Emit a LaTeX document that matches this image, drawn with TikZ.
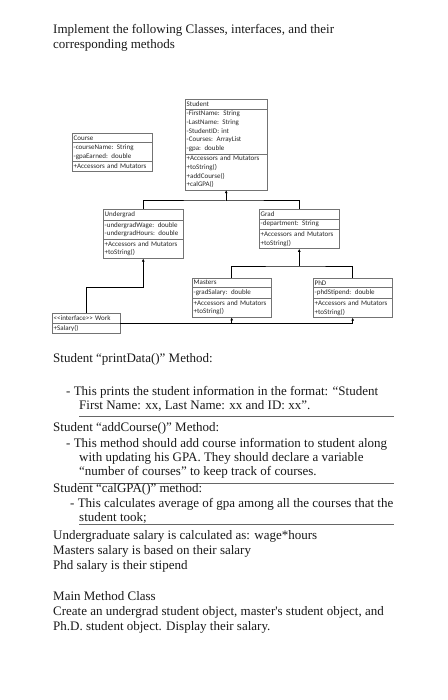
\documentclass[tikz,border=0pt]{standalone}
\usepackage{fontspec}
\setmainfont{Liberation Serif}
\newfontfamily\umlfont{Carlito}
\usetikzlibrary{arrows.meta,positioning,shapes.multipart}

\begin{document}
\begin{tikzpicture}[
    x=1pt,y=-1pt,
    txt/.style={anchor=base west,inner sep=0pt,text=black!90,
      font=\fontsize{13}{15}\selectfont},
    umlclass/.style={rectangle split,rectangle split parts=3,draw=black!55,
      anchor=north west,text width=77pt,align=left,inner xsep=1.5pt,inner ysep=2.1pt,
      text=black!85,font=\umlfont\fontsize{7}{8.6}\selectfont},
    umliface/.style={umlclass,rectangle split parts=2},
    tree/.style={line width=1pt},
    gen/.style={line width=1pt,-{Latex[length=3pt,width=3pt]}},
    rule/.style={draw=black!60,line width=0.9pt}
  ]
    \useasboundingbox (0,0) rectangle (447,700);

    % heading
    \node[txt] (title1) at (53,34) {Implement the following Classes, interfaces, and their};
    \node[txt] (title2) at (53,49) {corresponding methods};

    % class diagram
    \node[umlclass,text width=79pt] (student) at (185,99) {Student
      \nodepart{two}-FirstName: String\\-LastName: String\\-StudentID: int\\-Courses: ArrayList\\-gpa: double
      \nodepart{three}+Accessors and Mutators\\+toString()\\+addCourse()\\+calGPA()};
    \node[umlclass] (course) at (72,133) {Course
      \nodepart{two}-courseName: String\\-gpaEarned: double
      \nodepart{three}+Accessors and Mutators};
    \node[umlclass] (undergrad) at (103,209) {Undergrad
      \nodepart{two}-undergradWage: double\\-undergradHours: double
      \nodepart{three}+Accessors and Mutators\\+toString()};
    \node[umlclass] (grad) at (259,209) {Grad
      \nodepart{two}-department: String
      \nodepart{three}+Accessors and Mutators\\+toString()};
    \node[umlclass,text width=76pt] (masters) at (192,278) {Masters
      \nodepart{two}-gradSalary: double
      \nodepart{three}+Accessors and Mutators\\+toString()};
    \node[umlclass,text width=76pt] (phd) at (313,278) {PhD
      \nodepart{two}-phdStipend: double
      \nodepart{three}+Accessors and Mutators\\+toString()};
    \node[umliface,text width=65pt] (work) at (52,313) {\textless\textless interface\textgreater\textgreater{} Work
      \nodepart{two}+Salary()};

    \coordinate (jstu) at (student.south |- 0,201);
    \coordinate (jgrad) at (grad.south |- 0,266);
    \coordinate (jwork) at (undergrad.south |- 0,287);

    \draw[tree] (undergrad.north) |- (jstu) -| (grad.north);
    \draw[gen] (jstu) -- (student.south);
    \draw[tree] (masters.north) |- (jgrad) -| (phd.north);
    \draw[gen] (jgrad) -- (grad.south);
    \draw[gen] (work.north) |- (jwork) -- (undergrad.south);
    \draw[tree] (work.east) -- (work.east -| phd.south);
    \draw[gen] (work.east -| masters.south) -- (masters.south);
    \draw[gen] (work.east -| phd.south) -- (phd.south);

    % method notes
    \node[txt] (printhead) at (53,362) {Student “printData()” Method:};
    \node[txt] (print1) at (66,395.5) {- This prints the student information in the format: “Student};
    \node[txt] (print2) at (79,409) {First Name: xx, Last Name: xx and ID: xx”.};
    \draw[rule] (79,416.7) -- (394,416.7);
    \node[txt] (addhead) at (53,431) {Student “addCourse()” Method:};
    \node[txt] (add1) at (66,447) {- This method should add course information to student along};
    \node[txt] (add2) at (79,461) {with updating his GPA. They should declare a variable};
    \node[txt] (add3) at (79,475) {“number of courses” to keep track of courses.};
    \draw[rule] (79,483.3) -- (394,483.3);
    \node[txt] (gpahead) at (53,492) {Student “calGPA()” method:};
    \node[txt] (gpa1) at (70,507) {- This calculates average of gpa among all the courses that the};
    \node[txt] (gpa2) at (79,521) {student took;};
    \draw[rule] (79,524.3) -- (394,524.3);
    \node[txt] (sal1) at (53,539) {Undergraduate salary is calculated as: wage*hours};
    \node[txt] (sal2) at (53,554) {Masters salary is based on their salary};
    \node[txt] (sal3) at (53,569) {Phd salary is their stipend};
    \node[txt] (mainhead) at (53,600.5) {Main Method Class};
    \node[txt] (main1) at (53,615.5) {Create an undergrad student object, master\textquotesingle s student object, and};
    \node[txt] (main2) at (53,630.5) {Ph.D. student object. Display their salary.};
  \end{tikzpicture}
\end{document}
